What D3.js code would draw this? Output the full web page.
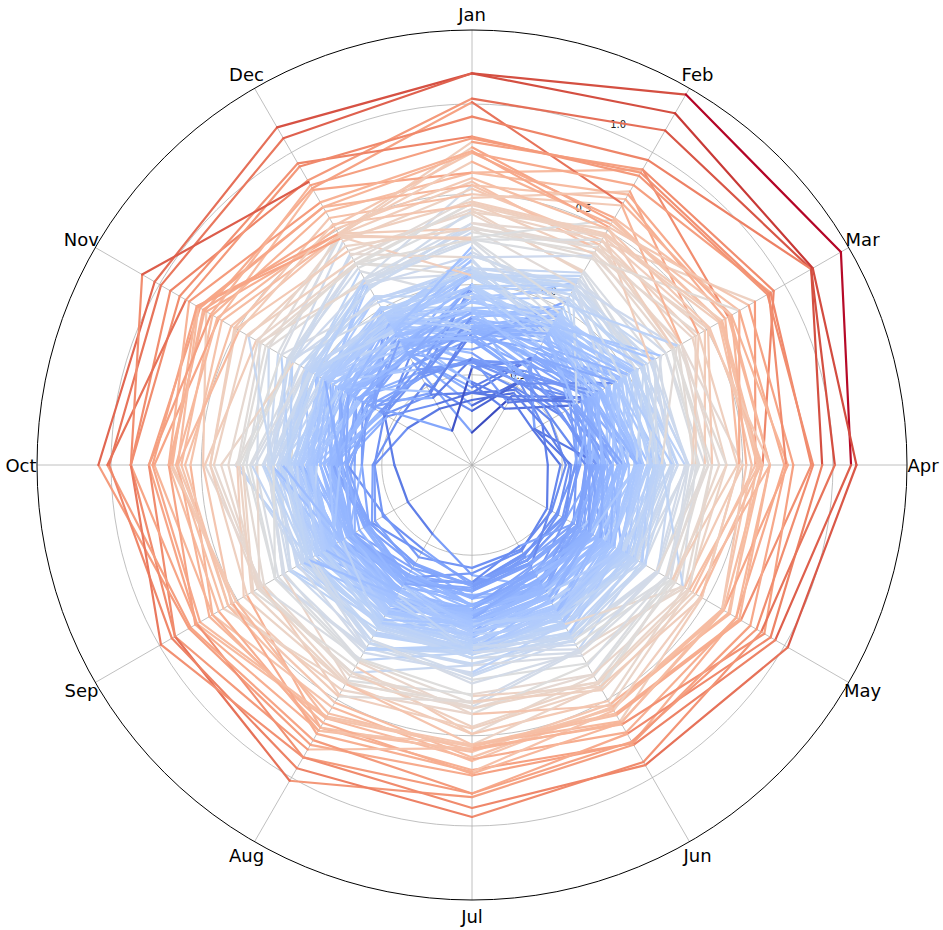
<!DOCTYPE html>
<html><head><meta charset="utf-8">
<script src="https://cdn.jsdelivr.net/npm/d3@7"></script>
<style>html,body{margin:0;padding:0;background:#fff;}svg{display:block;}</style>
</head><body>
<svg id="chart" width="943" height="930"></svg>
<script>
const months = ["Jan","Feb","Mar","Apr","May","Jun","Jul","Aug","Sep","Oct","Nov","Dec"];
const radialTicks = [-0.5, 0.0, 0.5, 1.0];
const firstYear = 1880;
// Monthly global temperature anomalies (°C), one row per year from 1880
const anomalies = [
[-0.18,-0.24,-0.09,-0.16,-0.10,-0.21,-0.18,-0.10,-0.15,-0.24,-0.22,-0.18],
[-0.19,-0.14,0.03,0.05,0.05,-0.19,0.00,-0.04,-0.15,-0.22,-0.19,-0.07],
[0.16,0.13,0.04,-0.17,-0.15,-0.23,-0.17,-0.08,-0.15,-0.24,-0.17,-0.36],
[-0.30,-0.37,-0.12,-0.19,-0.19,-0.08,-0.07,-0.14,-0.21,-0.11,-0.24,-0.11],
[-0.16,-0.08,-0.37,-0.42,-0.35,-0.39,-0.35,-0.26,-0.24,-0.23,-0.31,-0.28],
[-0.60,-0.31,-0.26,-0.43,-0.42,-0.43,-0.34,-0.29,-0.23,-0.21,-0.21,-0.05],
[-0.45,-0.51,-0.44,-0.28,-0.25,-0.34,-0.14,-0.27,-0.17,-0.24,-0.31,-0.28],
[-0.67,-0.46,-0.34,-0.37,-0.32,-0.25,-0.22,-0.34,-0.25,-0.35,-0.26,-0.41],
[-0.42,-0.35,-0.40,-0.22,-0.23,-0.15,-0.10,-0.13,-0.09,0.03,0.00,-0.06],
[-0.10,0.17,0.05,0.05,-0.01,-0.10,-0.07,-0.20,-0.24,-0.24,-0.33,-0.29],
[-0.43,-0.43,-0.40,-0.34,-0.31,-0.21,-0.26,-0.37,-0.35,-0.23,-0.45,-0.31],
[-0.25,-0.32,-0.14,-0.25,-0.14,-0.19,-0.18,-0.13,-0.06,-0.13,-0.38,-0.03],
[-0.27,-0.08,-0.35,-0.35,-0.25,-0.19,-0.28,-0.21,-0.16,-0.16,-0.43,-0.35],
[-0.82,-0.56,-0.25,-0.32,-0.36,-0.20,-0.12,-0.24,-0.23,-0.20,-0.23,-0.30],
[-0.57,-0.30,-0.22,-0.37,-0.28,-0.41,-0.30,-0.26,-0.34,-0.22,-0.25,-0.17],
[-0.43,-0.40,-0.23,-0.26,-0.24,-0.19,-0.13,-0.10,-0.13,-0.06,-0.20,-0.24],
[-0.24,-0.14,-0.28,-0.29,-0.14,-0.05,0.04,0.00,-0.05,0.07,-0.16,-0.08],
[-0.24,-0.11,-0.13,-0.02,-0.06,-0.13,-0.06,-0.07,-0.08,-0.11,-0.19,-0.27],
[0.00,-0.37,-0.60,-0.29,-0.30,-0.21,-0.23,-0.23,-0.21,-0.33,-0.36,-0.17],
[-0.13,-0.48,-0.28,-0.23,-0.28,-0.25,-0.11,-0.19,-0.01,0.03,0.06,-0.23],
[-0.36,-0.09,-0.02,-0.10,-0.12,0.00,-0.09,-0.08,-0.02,0.08,0.00,-0.11],
[-0.26,-0.08,0.04,-0.06,-0.15,-0.15,-0.12,-0.13,-0.23,-0.21,-0.33,-0.22],
[-0.16,-0.01,-0.27,-0.29,-0.33,-0.31,-0.22,-0.29,-0.21,-0.33,-0.36,-0.54],
[-0.23,-0.04,-0.24,-0.40,-0.41,-0.43,-0.33,-0.46,-0.43,-0.46,-0.44,-0.55],
[-0.60,-0.52,-0.50,-0.48,-0.49,-0.46,-0.43,-0.41,-0.44,-0.31,-0.26,-0.44],
[-0.41,-0.60,-0.24,-0.31,-0.27,-0.24,-0.18,-0.19,-0.17,-0.22,-0.06,-0.22],
[-0.31,-0.43,-0.29,-0.08,-0.26,-0.19,-0.16,-0.15,-0.21,-0.18,-0.36,-0.10],
[-0.55,-0.64,-0.34,-0.42,-0.46,-0.42,-0.33,-0.36,-0.32,-0.22,-0.42,-0.39],
[-0.43,-0.35,-0.60,-0.45,-0.40,-0.39,-0.35,-0.44,-0.36,-0.45,-0.52,-0.48],
[-0.70,-0.47,-0.55,-0.58,-0.52,-0.45,-0.40,-0.28,-0.34,-0.39,-0.30,-0.57],
[-0.41,-0.43,-0.49,-0.37,-0.33,-0.37,-0.34,-0.34,-0.38,-0.46,-0.59,-0.64],
[-0.64,-0.54,-0.55,-0.46,-0.45,-0.39,-0.33,-0.37,-0.35,-0.27,-0.21,-0.24],
[-0.27,-0.16,-0.35,-0.17,-0.23,-0.21,-0.39,-0.56,-0.59,-0.57,-0.44,-0.42],
[-0.43,-0.47,-0.43,-0.31,-0.40,-0.39,-0.32,-0.25,-0.31,-0.26,-0.09,-0.06],
[0.05,-0.06,-0.20,-0.27,-0.17,-0.22,-0.19,-0.12,-0.16,-0.04,-0.14,-0.06],
[-0.21,-0.10,-0.17,-0.05,-0.11,-0.17,-0.07,-0.19,-0.15,-0.22,-0.11,-0.16],
[-0.24,-0.38,-0.43,-0.33,-0.35,-0.48,-0.35,-0.26,-0.32,-0.28,-0.46,-0.61],
[-0.60,-0.57,-0.61,-0.51,-0.50,-0.35,-0.20,-0.19,-0.21,-0.39,-0.33,-0.78],
[-0.46,-0.33,-0.23,-0.41,-0.40,-0.29,-0.20,-0.26,-0.16,-0.04,-0.20,-0.30],
[-0.18,-0.25,-0.25,-0.06,-0.30,-0.32,-0.26,-0.30,-0.21,-0.21,-0.41,-0.42],
[-0.20,-0.28,-0.04,-0.30,-0.32,-0.36,-0.30,-0.27,-0.21,-0.31,-0.37,-0.44],
[0.00,-0.20,-0.26,-0.30,-0.25,-0.26,-0.07,-0.21,-0.15,-0.06,-0.16,-0.20],
[-0.38,-0.48,-0.09,-0.25,-0.36,-0.25,-0.22,-0.28,-0.33,-0.31,-0.15,-0.26],
[-0.21,-0.35,-0.26,-0.34,-0.33,-0.19,-0.22,-0.32,-0.22,-0.06,-0.02,-0.13],
[-0.27,-0.13,-0.18,-0.34,-0.17,-0.30,-0.27,-0.29,-0.24,-0.28,-0.15,-0.36],
[-0.26,-0.31,-0.14,-0.19,-0.24,-0.32,-0.20,-0.13,-0.18,-0.16,0.00,0.07],
[0.04,-0.09,0.06,-0.14,-0.21,-0.26,-0.22,-0.10,-0.09,-0.09,-0.05,-0.31],
[-0.26,-0.18,-0.35,-0.27,-0.25,-0.30,-0.15,-0.19,-0.07,0.01,-0.08,-0.39],
[-0.03,-0.17,-0.37,-0.22,-0.26,-0.30,-0.14,-0.20,-0.20,-0.16,-0.11,-0.21],
[-0.54,-0.58,-0.30,-0.36,-0.33,-0.37,-0.31,-0.24,-0.23,-0.18,-0.13,-0.53],
[-0.27,-0.21,-0.04,-0.14,-0.17,-0.20,-0.18,-0.06,-0.11,-0.10,0.07,-0.22],
[-0.07,-0.19,-0.06,-0.18,-0.13,-0.02,0.00,-0.04,-0.10,-0.03,-0.09,-0.04],
[0.13,-0.15,-0.18,-0.07,-0.20,-0.30,-0.20,-0.08,-0.07,-0.10,-0.27,-0.28],
[-0.26,-0.30,-0.27,-0.19,-0.23,-0.27,-0.16,-0.16,-0.23,-0.22,-0.34,-0.44],
[-0.18,-0.02,-0.29,-0.23,-0.04,-0.12,-0.05,-0.06,-0.11,-0.12,-0.01,-0.09],
[-0.32,0.05,-0.25,-0.35,-0.25,-0.20,-0.14,-0.16,-0.17,-0.12,-0.29,-0.20],
[-0.27,-0.42,-0.23,-0.15,-0.13,-0.16,-0.04,-0.05,-0.05,-0.03,-0.05,0.01],
[-0.13,0.01,-0.19,-0.13,-0.02,-0.03,0.02,0.07,0.12,0.10,0.03,-0.13],
[0.05,0.09,0.16,0.11,-0.05,-0.08,-0.01,0.01,0.08,0.16,0.06,-0.23],
[-0.07,-0.04,-0.14,-0.05,-0.06,0.01,0.01,0.04,-0.04,-0.02,0.05,0.24],
[-0.08,0.07,0.08,0.14,0.06,0.07,0.05,0.00,0.16,0.07,0.15,0.29],
[0.09,0.23,0.09,0.20,0.19,0.12,0.17,0.12,0.04,0.31,0.15,0.17],
[0.24,-0.03,0.02,0.07,0.04,0.03,-0.02,-0.04,0.00,0.06,0.06,0.08],
[-0.07,0.12,-0.08,0.06,0.01,-0.09,0.05,0.01,0.08,0.29,0.17,0.26],
[0.39,0.24,0.17,0.19,0.10,0.09,0.16,0.17,0.26,0.23,0.10,0.06],
[0.08,-0.12,0.03,0.14,0.04,-0.05,0.04,0.25,0.24,0.20,0.06,-0.06],
[0.18,0.06,-0.02,0.00,-0.16,-0.15,-0.10,-0.12,-0.02,-0.01,-0.05,-0.25],
[-0.09,-0.13,0.02,0.04,-0.05,0.03,-0.06,-0.08,-0.11,0.12,0.02,-0.08],
[0.07,-0.12,-0.25,-0.07,-0.01,-0.03,-0.14,-0.10,-0.11,-0.08,-0.14,-0.26],
[0.08,-0.14,-0.05,-0.07,-0.11,-0.20,-0.12,-0.06,-0.08,-0.05,-0.07,-0.21],
[-0.29,-0.26,-0.09,-0.22,-0.11,-0.05,-0.08,-0.17,-0.12,-0.21,-0.36,-0.20],
[-0.30,-0.43,-0.19,-0.06,0.03,-0.02,0.03,0.08,0.05,0.06,-0.08,0.15],
[0.16,0.12,-0.09,0.02,-0.07,-0.07,0.03,0.08,0.08,0.00,-0.16,-0.01],
[0.04,0.14,0.09,0.20,0.06,0.09,0.03,0.09,0.07,0.08,-0.05,0.07],
[-0.26,-0.05,-0.14,-0.19,-0.19,-0.16,-0.13,-0.11,-0.06,-0.02,0.04,-0.15],
[0.14,-0.17,-0.34,-0.19,-0.20,-0.06,-0.11,0.02,-0.11,-0.12,-0.28,-0.29],
[-0.15,-0.28,-0.20,-0.28,-0.25,-0.12,-0.10,-0.23,-0.22,-0.25,-0.21,-0.09],
[-0.10,-0.04,-0.03,0.02,0.08,0.18,0.03,0.17,0.05,0.02,0.07,0.16],
[0.41,0.23,0.10,0.01,0.02,-0.14,0.03,-0.06,-0.03,0.03,0.04,-0.04],
[0.08,0.09,0.20,0.10,0.02,0.02,0.05,-0.02,-0.06,-0.10,-0.08,0.00],
[-0.02,0.12,-0.33,-0.16,-0.09,-0.04,-0.03,0.01,0.06,-0.03,-0.09,0.18],
[0.06,0.19,0.08,0.12,0.10,0.08,0.00,0.01,0.05,0.04,0.03,-0.12],
[0.05,0.17,0.10,0.01,0.04,0.04,0.04,-0.01,0.03,0.02,0.06,-0.06],
[-0.01,0.15,-0.14,-0.07,-0.06,0.08,0.11,0.14,0.16,0.10,0.17,-0.03],
[-0.05,-0.10,-0.21,-0.27,-0.18,-0.05,-0.02,-0.23,-0.28,-0.30,-0.21,-0.31],
[0.00,-0.13,-0.09,-0.16,-0.09,-0.04,-0.12,-0.06,-0.11,-0.05,-0.07,-0.12],
[-0.14,-0.06,0.10,-0.09,-0.11,0.01,0.05,-0.14,0.03,-0.14,-0.08,-0.05],
[-0.05,-0.24,0.00,-0.02,0.09,-0.05,0.04,0.04,-0.05,0.11,-0.04,-0.03],
[-0.23,-0.11,0.21,-0.03,-0.07,-0.03,-0.11,-0.05,-0.15,0.11,-0.06,-0.18],
[-0.14,-0.11,0.02,0.18,0.18,0.10,0.02,0.02,0.11,0.11,0.18,0.29],
[0.05,0.21,0.05,0.07,-0.04,-0.05,-0.02,-0.11,0.08,0.04,0.06,-0.08],
[-0.01,-0.21,-0.17,-0.09,-0.05,-0.17,-0.12,-0.01,-0.02,-0.06,-0.04,-0.07],
[-0.24,-0.16,0.00,-0.01,0.00,0.04,0.00,0.18,0.03,0.12,0.04,0.16],
[0.32,0.33,0.24,0.26,0.19,0.20,0.07,0.03,0.03,0.05,0.00,-0.05],
[-0.14,-0.31,-0.08,-0.05,-0.06,-0.09,-0.06,0.01,-0.05,-0.11,-0.06,-0.11],
[0.07,0.05,0.12,0.06,-0.03,-0.03,-0.12,-0.19,-0.06,-0.10,-0.17,-0.16],
[-0.01,-0.13,-0.23,-0.08,-0.24,-0.15,-0.10,-0.14,-0.11,-0.27,-0.06,-0.03],
[0.09,0.18,0.24,0.29,0.29,0.27,0.19,0.14,0.02,0.01,0.22,0.04],
[0.07,0.14,0.15,0.11,0.05,-0.02,0.04,-0.17,0.05,0.01,0.15,0.06],
[0.10,-0.10,0.17,0.02,0.04,0.13,0.04,0.18,0.26,0.25,0.30,0.48],
[0.31,0.41,0.29,0.33,0.36,0.18,0.32,0.25,0.20,0.13,0.30,0.19],
[0.55,0.41,0.49,0.29,0.25,0.34,0.27,0.38,0.21,0.13,0.24,0.46],
[0.05,0.14,-0.04,0.11,0.19,0.10,0.07,0.05,0.17,0.13,0.17,0.43],
[0.53,0.44,0.43,0.24,0.34,0.22,0.11,0.33,0.36,0.19,0.36,0.17],
[0.31,0.15,0.31,0.05,0.35,0.02,0.15,0.20,0.21,0.13,0.03,-0.14],
[0.21,-0.07,0.10,0.03,0.11,0.11,0.01,0.18,0.11,0.12,0.03,0.14],
[0.29,0.36,0.28,0.25,0.25,0.12,0.10,0.14,0.05,0.15,0.10,0.13],
[0.34,0.47,0.14,0.20,0.27,0.35,0.49,0.29,0.40,0.27,0.22,0.47],
[0.57,0.38,0.41,0.41,0.38,0.34,0.35,0.39,0.36,0.39,0.14,0.35],
[0.15,0.34,0.34,0.31,0.18,0.19,0.34,0.35,0.33,0.27,0.16,0.34],
[0.42,0.43,0.81,0.57,0.41,0.40,0.45,0.33,0.37,0.45,0.51,0.37],
[0.40,0.51,0.34,0.50,0.36,0.51,0.49,0.40,0.46,0.30,0.35,0.28],
[0.45,0.35,0.45,0.22,0.27,0.15,0.04,0.03,-0.17,0.05,0.00,0.19],
[0.34,0.39,0.32,0.23,0.24,0.20,0.21,0.12,0.09,0.22,0.07,0.19],
[0.25,0.03,0.32,0.41,0.28,0.42,0.28,0.24,0.35,0.43,0.44,0.31],
[0.48,0.75,0.45,0.47,0.28,0.43,0.46,0.47,0.34,0.48,0.38,0.29],
[0.25,0.44,0.29,0.31,0.24,0.28,0.38,0.26,0.26,0.10,0.43,0.40],
[0.31,0.39,0.51,0.33,0.39,0.54,0.38,0.44,0.56,0.61,0.66,0.62],
[0.62,0.89,0.64,0.65,0.69,0.78,0.69,0.68,0.44,0.45,0.52,0.58],
[0.50,0.66,0.34,0.37,0.30,0.39,0.35,0.33,0.37,0.35,0.37,0.46],
[0.26,0.57,0.59,0.59,0.39,0.39,0.32,0.40,0.41,0.29,0.32,0.29],
[0.45,0.47,0.58,0.55,0.60,0.55,0.62,0.52,0.54,0.49,0.70,0.48],
[0.79,0.89,0.93,0.61,0.64,0.55,0.64,0.55,0.66,0.56,0.60,0.47],
[0.76,0.56,0.59,0.58,0.65,0.53,0.59,0.68,0.66,0.76,0.62,0.76],
[0.62,0.73,0.65,0.65,0.43,0.44,0.31,0.48,0.51,0.67,0.72,0.53],
[0.73,0.58,0.71,0.73,0.69,0.71,0.63,0.62,0.76,0.79,0.74,0.65],
[0.55,0.70,0.62,0.48,0.47,0.64,0.55,0.70,0.62,0.68,0.71,0.77],
[1.01,0.67,0.66,0.75,0.61,0.56,0.58,0.59,0.56,0.59,0.54,0.47],
[0.25,0.32,0.71,0.48,0.47,0.42,0.55,0.40,0.59,0.64,0.63,0.51],
[0.59,0.51,0.52,0.61,0.61,0.65,0.71,0.65,0.68,0.63,0.75,0.65],
[0.73,0.79,0.91,0.88,0.72,0.60,0.56,0.62,0.51,0.66,0.76,0.45],
[0.46,0.48,0.60,0.60,0.46,0.57,0.70,0.72,0.53,0.63,0.49,0.54],
[0.44,0.46,0.51,0.65,0.71,0.59,0.55,0.61,0.74,0.77,0.76,0.48],
[0.68,0.54,0.66,0.52,0.60,0.65,0.58,0.70,0.77,0.68,0.81,0.68],
[0.74,0.52,0.77,0.78,0.87,0.66,0.57,0.82,0.90,0.79,0.67,0.79],
[0.81,0.87,0.90,0.74,0.78,0.78,0.72,0.79,0.81,1.07,1.03,1.16],
[1.17,1.37,1.36,1.10,0.94,0.79,0.84,1.02,0.90,0.89,0.93,0.82],
[1.03,1.14,1.17,0.94,0.91,0.72,0.82,0.87,0.76,0.89,0.87,0.93],
[0.82,0.85,0.89,0.89,0.82,0.77,0.82,0.76,0.80,1.02,0.83,0.91],
[0.93,0.95,1.17,1.01,0.85,0.90,0.95,0.94,0.92,1.01,0.99,1.09],
[1.17,1.25,1.18,1.13,1.02,0.92,0.90,0.87,0.99,0.89,1.11,0.81]
];

// matplotlib "coolwarm" colour stops
const coolwarm = ["#3b4cc0","#445acc","#4d68d7","#5775e1","#6282ea","#6c8ef1","#779af7","#82a5fb","#8db0fe","#98b9ff","#a3c2ff","#aec9fd","#b8d0f9","#c2d5f4","#ccd9ee","#d5dbe6","#dddddd","#e5d8d1","#ecd3c5","#f1ccb9","#f5c4ad","#f7bba0","#f7b194","#f7a687","#f49a7b","#f18d6f","#ec7f63","#e57058","#de604d","#d55042","#cb3e38","#c0282f","#b40426"];

const svg = d3.select("#chart");
const cx = 472, cy = 465, R = 435;
const g = svg.append("g").attr("transform", `translate(${cx},${cy})`);

const rScale = d3.scaleLinear().domain([-1, 1.41]).range([0, R]);
const aScale = d3.scaleLinear().domain([0, 12]).range([0, 2 * Math.PI]);

// flatten into continuous series
const series = [];
anomalies.forEach((row, yi) => row.forEach((v, mi) => series.push({year: firstYear + yi, m: mi, v})));
const ext = d3.extent(series, d => d.v);
const t = d3.scaleLinear().domain(ext).range([0, 1]);
const cStops = coolwarm.map((c, i) => i / (coolwarm.length - 1));
const cmap = d3.scaleLinear().domain(cStops).range(coolwarm).interpolate(d3.interpolateRgb);
const color = v => cmap(t(v));

// grid circles
g.selectAll("circle.grid").data(radialTicks).enter().append("circle")
  .attr("r", d => rScale(d)).attr("fill", "none")
  .attr("stroke", "#b0b0b0").attr("stroke-width", 0.8);
// spokes
g.selectAll("line.spoke").data(months).enter().append("line")
  .attr("x1", 0).attr("y1", 0)
  .attr("x2", (d, i) => d3.pointRadial(aScale(i), R)[0])
  .attr("y2", (d, i) => d3.pointRadial(aScale(i), R)[1])
  .attr("stroke", "#b0b0b0").attr("stroke-width", 0.8);

// radial tick labels at 22.5 degrees
const labAng = 22.5 * Math.PI / 180;
g.selectAll("text.rt").data(radialTicks).enter().append("text")
  .attr("x", d => d3.pointRadial(labAng, rScale(d))[0])
  .attr("y", d => d3.pointRadial(labAng, rScale(d))[1] - 3)
  .attr("font-family", "DejaVu Sans, sans-serif").attr("font-size", 10)
  .attr("fill", "#222")
  .text(d => d.toFixed(1));

// line segments coloured by start value
const segs = d3.pairs(series);
g.append("g").selectAll("line").data(segs).enter().append("line")
  .attr("x1", d => d3.pointRadial(aScale(d[0].m), rScale(d[0].v))[0])
  .attr("y1", d => d3.pointRadial(aScale(d[0].m), rScale(d[0].v))[1])
  .attr("x2", d => d3.pointRadial(aScale(d[1].m), rScale(d[1].v))[0])
  .attr("y2", d => d3.pointRadial(aScale(d[1].m), rScale(d[1].v))[1])
  .attr("stroke", d => color(d[0].v))
  .attr("stroke-width", 2.2)
  .attr("stroke-linecap", "round");

// outer circle
g.append("circle").attr("r", R).attr("fill", "none").attr("stroke", "#000").attr("stroke-width", 1);

// month labels
g.selectAll("text.month").data(months).enter().append("text")
  .attr("x", (d, i) => d3.pointRadial(aScale(i), R + 16)[0])
  .attr("y", (d, i) => d3.pointRadial(aScale(i), R + 16)[1])
  .attr("text-anchor", "middle").attr("dominant-baseline", "central")
  .attr("font-family", "DejaVu Sans, sans-serif").attr("font-size", 18)
  .attr("fill", "#000")
  .text(d => d);
</script>
</body></html>
